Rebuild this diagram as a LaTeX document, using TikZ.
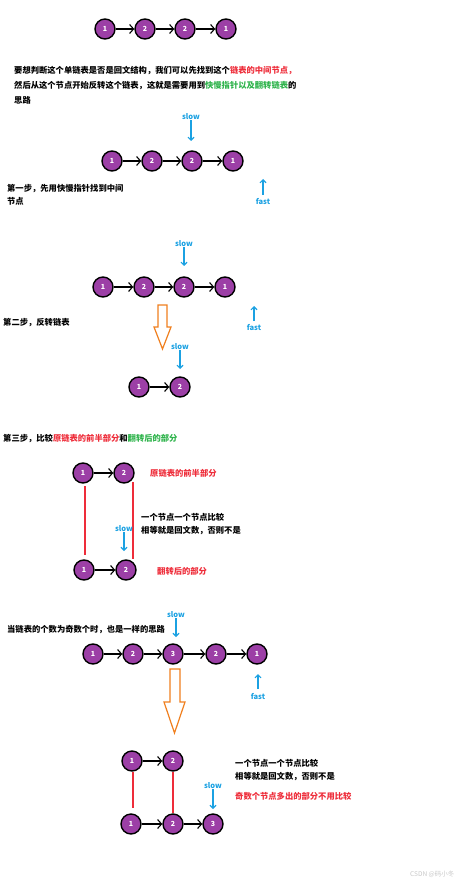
\documentclass[tikz,border=0pt]{standalone}
\usepackage{fontspec}
\setmainfont{Noto Sans CJK SC}
\usetikzlibrary{arrows.meta}
\definecolor{nodepurple}{HTML}{9C3FA6}
\definecolor{ptrblue}{HTML}{1BA1E2}
\definecolor{hlred}{HTML}{EE2D3A}
\definecolor{hlgreen}{HTML}{2EB34B}
\definecolor{bigorange}{HTML}{F07F1E}
\definecolor{wmgray}{HTML}{C8C8C8}
\begin{document}
\begin{tikzpicture}[x=1pt,y=-1pt,
  lnode/.style={circle,draw=black,line width=1.4pt,fill=nodepurple,minimum size=20pt,inner sep=0pt,
    text=white,font=\fontsize{7}{8}\selectfont\bfseries},
  link/.style={line width=1.1pt,-{Straight Barb[length=4pt,width=9pt]}},
  ptr/.style={ptrblue,line width=1.1pt,-{Straight Barb[length=3pt,width=6pt]}},
  ptrlabel/.style={text=ptrblue,font=\fontsize{7.5}{8}\selectfont\bfseries,inner sep=0pt},
  txt/.style={anchor=west,inner sep=0pt,font=\fontsize{8.3}{10}\selectfont\bfseries},
  cmp/.style={hlred,line width=1.2pt},
  hollow/.style={draw=bigorange,line width=1.2pt,fill=white}]
\useasboundingbox (0,0) rectangle (474,882);

% Row 1
\node[lnode] (a1) at (105,29) {1};
\node[lnode] (a2) at (145,29) {2};
\node[lnode] (a3) at (185,29) {2};
\node[lnode] (a4) at (226,29) {1};
\draw[link] (a1) -- (a2);
\draw[link] (a2) -- (a3);
\draw[link] (a3) -- (a4);

\node[txt] (t1) at (14,71) {要想判断这个单链表是否是回文结构，我们可以先找到这个\textcolor{hlred}{链表的中间节点，}};
\node[txt] (t2) at (14,86) {然后从这个节点开始反转这个链表，这就是需要用到\textcolor{hlgreen}{快慢指针以及翻转链表}的};
\node[txt] (t3) at (14,100) {思路};

% Row 2
\node[lnode] (b1) at (112,161) {1};
\node[lnode] (b2) at (152,161) {2};
\node[lnode] (b3) at (192,161) {2};
\node[lnode] (b4) at (233,161) {1};
\draw[link] (b1) -- (b2);
\draw[link] (b2) -- (b3);
\draw[link] (b3) -- (b4);
\node[ptrlabel] (s1) at (191,117) {slow};
\coordinate (s1e) at (191,141);
\draw[ptr] (s1) -- (s1e);
\node[ptrlabel] (f1) at (263,202) {fast};
\coordinate (f1s) at (263,195);
\coordinate (f1e) at (263,179);
\draw[ptr] (f1s) -- (f1e);
\node[txt] (t4) at (7,189) {第一步，先用快慢指针找到中间};
\node[txt] (t5) at (7,201) {节点};

% Row 3
\node[lnode] (c1) at (103,287) {1};
\node[lnode] (c2) at (144,287) {2};
\node[lnode] (c3) at (184,287) {2};
\node[lnode] (c4) at (225,287) {1};
\draw[link] (c1) -- (c2);
\draw[link] (c2) -- (c3);
\draw[link] (c3) -- (c4);
\node[ptrlabel] (s2) at (184,244) {slow};
\coordinate (s2e) at (184,266);
\draw[ptr] (s2) -- (s2e);
\node[ptrlabel] (f2) at (254,328) {fast};
\coordinate (f2s) at (254,321);
\coordinate (f2e) at (254,306);
\draw[ptr] (f2s) -- (f2e);
\node[txt] (t6) at (3,323) {第二步，反转链表};
\draw[hollow] (158,305) -- (167,305) -- (167,327) -- (171,327) -- (162.5,349) -- (154,327) -- (158,327) -- cycle;

% Row 4
\node[ptrlabel] (s3) at (180,347) {slow};
\coordinate (s3e) at (180,369);
\draw[ptr] (s3) -- (s3e);
\node[lnode] (d1) at (139,387) {1};
\node[lnode] (d2) at (180,387) {2};
\draw[link] (d1) -- (d2);

% Step 3
\node[txt] (t7) at (3,439) {第三步，比较\textcolor{hlred}{原链表的前半部分}和\textcolor{hlgreen}{翻转后的部分}};
\node[lnode] (e1) at (83,473) {1};
\node[lnode] (e2) at (124,473) {2};
\draw[link] (e1) -- (e2);
\node[lnode] (g1) at (84,570) {1};
\node[lnode] (g2) at (126,570) {2};
\draw[link] (g1) -- (g2);
\coordinate (l1t) at (85,486);
\coordinate (l1b) at (85,555);
\coordinate (l2t) at (133,482);
\coordinate (l2b) at (133,559);
\draw[cmp] (l1t) -- (l1b);
\draw[cmp] (l2t) -- (l2b);
\node[txt,text=hlred] (t8) at (150,473) {原链表的前半部分};
\node[txt,text=hlred] (t9) at (157,571) {翻转后的部分};
\node[txt] (t10) at (141,517) {一个节点一个节点比较};
\node[txt] (t11) at (141,531) {相等就是回文数，否则不是};
\node[ptrlabel] (s4) at (124,529) {slow};
\coordinate (s4e) at (124,551);
\draw[ptr] (s4) -- (s4e);

% Odd case
\node[txt] (t12) at (7,630) {当链表的个数为奇数个时，也是一样的思路};
\node[ptrlabel] (s5) at (176,615) {slow};
\coordinate (s5e) at (176,637);
\draw[ptr] (s5) -- (s5e);
\node[lnode] (h1) at (93,654) {1};
\node[lnode] (h2) at (133,654) {2};
\node[lnode] (h3) at (173,654) {3};
\node[lnode] (h4) at (216,654) {2};
\node[lnode] (h5) at (257,654) {1};
\draw[link] (h1) -- (h2);
\draw[link] (h2) -- (h3);
\draw[link] (h3) -- (h4);
\draw[link] (h4) -- (h5);
\node[ptrlabel] (f3) at (258,696) {fast};
\coordinate (f3s) at (258,689);
\coordinate (f3e) at (258,674);
\draw[ptr] (f3s) -- (f3e);
\draw[hollow] (170,669) -- (180,669) -- (180,702) -- (185,702) -- (174.5,733) -- (164,702) -- (170,702) -- cycle;

\node[lnode] (i1) at (132,761) {1};
\node[lnode] (i2) at (173,761) {2};
\draw[link] (i1) -- (i2);
\node[lnode] (j1) at (131,824) {1};
\node[lnode] (j2) at (173,824) {2};
\node[lnode] (j3) at (213,824) {3};
\draw[link] (j1) -- (j2);
\draw[link] (j2) -- (j3);
\coordinate (m1t) at (133,772);
\coordinate (m1b) at (133,808);
\coordinate (m2t) at (173,772);
\coordinate (m2b) at (173,813);
\draw[cmp] (m1t) -- (m1b);
\draw[cmp] (m2t) -- (m2b);
\node[ptrlabel] (s6) at (213,786) {slow};
\coordinate (s6e) at (213,809);
\draw[ptr] (s6) -- (s6e);
\node[txt] (t13) at (235,763) {一个节点一个节点比较};
\node[txt] (t14) at (235,777) {相等就是回文数，否则不是};
\node[txt,text=hlred] (t15) at (235,796) {奇数个节点多出的部分不用比较};

\node[txt,text=wmgray,font=\fontsize{6.5}{7}\selectfont] (wm) at (410,874) {CSDN @码小冬};
\end{tikzpicture}
\end{document}
